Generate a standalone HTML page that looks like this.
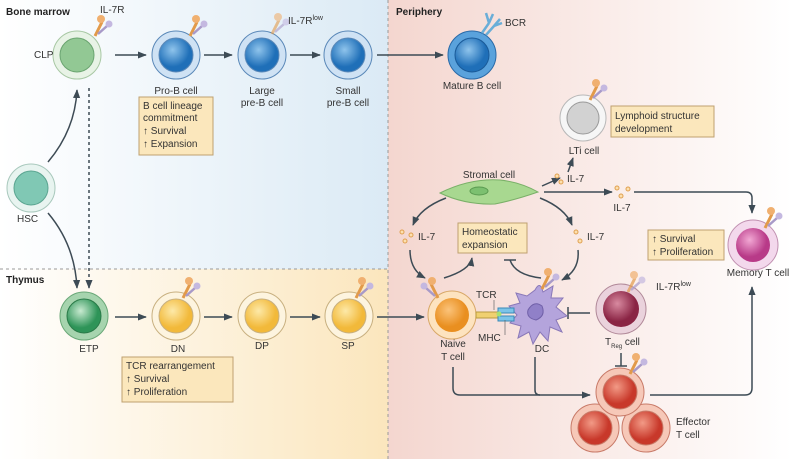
<!DOCTYPE html>
<html><head><meta charset="utf-8"><style>
html,body{margin:0;padding:0;background:#fff}
svg{display:block}
text{font-family:"Liberation Sans",sans-serif;font-size:10px;fill:#333}
.b{font-weight:bold;font-size:10px;fill:#222}
</style></head><body>
<svg width="792" height="459" viewBox="0 0 792 459" xmlns="http://www.w3.org/2000/svg">
<defs>
<linearGradient id="gb" x1="0" x2="1"><stop offset="0" stop-color="#fff"/><stop offset="1" stop-color="#dbeaf5"/></linearGradient>
<linearGradient id="gt" x1="0" x2="1"><stop offset="0" stop-color="#fff"/><stop offset="1" stop-color="#fbe6bd"/></linearGradient>
<linearGradient id="gp" x1="0" x2="1"><stop offset="0" stop-color="#f4d6cf"/><stop offset="1" stop-color="#fff"/></linearGradient>
<radialGradient id="blue" cx=".4" cy=".35"><stop offset="0" stop-color="#8fc4ec"/><stop offset="1" stop-color="#1f6fb8"/></radialGradient>
<radialGradient id="yel" cx=".4" cy=".35"><stop offset="0" stop-color="#fde9a8"/><stop offset="1" stop-color="#f2b93a"/></radialGradient>
<radialGradient id="org" cx=".4" cy=".35"><stop offset="0" stop-color="#fbc37a"/><stop offset="1" stop-color="#e98f20"/></radialGradient>
<radialGradient id="red" cx=".4" cy=".35"><stop offset="0" stop-color="#f29a86"/><stop offset="1" stop-color="#c8382a"/></radialGradient>
<radialGradient id="mag" cx=".4" cy=".35"><stop offset="0" stop-color="#f2a8d4"/><stop offset="1" stop-color="#b83a88"/></radialGradient>
<radialGradient id="treg" cx=".4" cy=".35"><stop offset="0" stop-color="#d88aa0"/><stop offset="1" stop-color="#8a2444"/></radialGradient>
<radialGradient id="grn" cx=".4" cy=".35"><stop offset="0" stop-color="#c8ead0"/><stop offset="1" stop-color="#2e9458"/></radialGradient>
<marker id="a" viewBox="0 0 10 10" refX="9" refY="5" markerWidth="6" markerHeight="6" orient="auto"><path d="M0,1 L10,5 L0,9 z" fill="#3d4b55"/></marker>
<g id="rec"><path d="M0,0 L7,-14" stroke="#e29a4a" stroke-width="3"/><circle cx="6" cy="-17" r="4" fill="#f0b070"/><path d="M3,-2 L12,-10" stroke="#a89ac8" stroke-width="2.5"/><circle cx="14" cy="-12" r="3.5" fill="#c4b8e0"/></g>
</defs>
<rect x="0" y="0" width="388" height="269" fill="url(#gb)"/>
<rect x="0" y="269" width="388" height="190" fill="url(#gt)"/>
<rect x="388" y="0" width="404" height="459" fill="url(#gp)"/>
<line x1="0" y1="269" x2="388" y2="269" stroke="#999" stroke-dasharray="3,3"/>
<line x1="388" y1="0" x2="388" y2="459" stroke="#999" stroke-dasharray="3,3"/>
<text x="6" y="15" class="b">Bone marrow</text>
<text x="6" y="283" class="b">Thymus</text>
<text x="396" y="15" class="b">Periphery</text>

<g fill="none" stroke="#3d4b55" stroke-width="1.5">
<line x1="115" y1="55" x2="146" y2="55" marker-end="url(#a)"/>
<line x1="204" y1="55" x2="232" y2="55" marker-end="url(#a)"/>
<line x1="290" y1="55" x2="320" y2="55" marker-end="url(#a)"/>
<line x1="377" y1="55" x2="443" y2="55" marker-end="url(#a)"/>
<path d="M48,162 Q75,130 77,90" marker-end="url(#a)"/>
<path d="M48,213 Q75,245 77,288" marker-end="url(#a)"/>
<line x1="89" y1="88" x2="89" y2="288" stroke-dasharray="3,3" marker-end="url(#a)"/>
<line x1="115" y1="317" x2="146" y2="317" marker-end="url(#a)"/>
<line x1="204" y1="317" x2="232" y2="317" marker-end="url(#a)"/>
<line x1="290" y1="317" x2="320" y2="317" marker-end="url(#a)"/>
<line x1="377" y1="317" x2="424" y2="317" marker-end="url(#a)"/>
<path d="M446,198 Q420,208 413,225" marker-end="url(#a)"/>
<path d="M540,198 Q565,208 572,225" marker-end="url(#a)"/>
<path d="M542,186 L560,178" marker-end="url(#a)"/>
<path d="M568,172 L573,158" marker-end="url(#a)"/>
<line x1="544" y1="192" x2="612" y2="192" marker-end="url(#a)"/>
<path d="M634,192 L746,192 Q752,192 752,198 L752,213" marker-end="url(#a)"/>
<path d="M410,250 Q410,270 425,278" marker-end="url(#a)"/>
<path d="M444,278 Q470,270 472,258" marker-end="url(#a)"/>
<path d="M541,278 Q515,275 510,260"/><line x1="504" y1="260" x2="516" y2="260"/>
<path d="M578,250 Q580,270 562,280" marker-end="url(#a)"/>
<line x1="590" y1="313" x2="568" y2="313"/><line x1="568" y1="307" x2="568" y2="319"/>
<line x1="621" y1="353" x2="621" y2="366"/><line x1="615" y1="366" x2="627" y2="366"/>
<path d="M453,367 L453,388 Q453,395 460,395 L590,395" marker-end="url(#a)"/>
<path d="M535,357 L535,390 Q535,395 540,395"/>
<path d="M650,395 L745,395 Q752,395 752,388 L752,287" marker-end="url(#a)"/>
</g>

<g stroke-width="1">
<circle cx="77" cy="55" r="24" fill="#e8f3e6" stroke="#a8c8a4"/><circle cx="77" cy="55" r="17" fill="#92c894" stroke="#6aa470"/>
<circle cx="31" cy="188" r="24" fill="#e8f4f0" stroke="#a8c8bc"/><circle cx="31" cy="188" r="17" fill="#80c8b4" stroke="#5aa490"/>
<g stroke="#5a88b8"><circle cx="176" cy="55" r="24" fill="#cfe2f4"/><circle cx="176" cy="55" r="17" fill="url(#blue)"/>
<circle cx="262" cy="55" r="24" fill="#cfe2f4"/><circle cx="262" cy="55" r="17" fill="url(#blue)"/>
<circle cx="348" cy="55" r="24" fill="#cfe2f4"/><circle cx="348" cy="55" r="17" fill="url(#blue)"/>
<circle cx="472" cy="55" r="24" fill="#5aa2dc" stroke="#2a6aa8"/><circle cx="472" cy="55" r="17" fill="url(#blue)" stroke="#1a5a98"/></g>
<circle cx="84" cy="316" r="24" fill="#a6d4ae" stroke="#6aa878"/><circle cx="84" cy="316" r="17" fill="url(#grn)" stroke="#2a7a48"/>
<g stroke="#c8b080"><circle cx="176" cy="316" r="24" fill="#fdf4df"/><circle cx="176" cy="316" r="17" fill="url(#yel)"/>
<circle cx="262" cy="316" r="24" fill="#fdf4df"/><circle cx="262" cy="316" r="17" fill="url(#yel)"/>
<circle cx="349" cy="316" r="24" fill="#fdf4df"/><circle cx="349" cy="316" r="17" fill="url(#yel)"/></g>
<circle cx="583" cy="118" r="23" fill="#f6f6f6" stroke="#b8b8b8"/><circle cx="583" cy="118" r="16" fill="#d2d2d2" stroke="#999"/>
<circle cx="452" cy="315" r="24" fill="#fde3bf" stroke="#d8a868"/><circle cx="452" cy="315" r="17" fill="url(#org)"/>
<circle cx="621" cy="309" r="25" fill="#ead2dc" stroke="#b08898"/><circle cx="621" cy="309" r="18" fill="url(#treg)"/>
<circle cx="753" cy="245" r="25" fill="#f3d8ec" stroke="#c090b0"/><circle cx="753" cy="245" r="17" fill="url(#mag)"/>
<g stroke="#c87a68"><circle cx="595" cy="428" r="24" fill="#f6c8b8"/><circle cx="595" cy="428" r="17" fill="url(#red)"/>
<circle cx="646" cy="428" r="24" fill="#f6c8b8"/><circle cx="646" cy="428" r="17" fill="url(#red)"/>
<circle cx="620" cy="392" r="24" fill="#f6c8b8"/><circle cx="620" cy="392" r="17" fill="url(#red)"/></g>
</g>
<path d="M440,193 Q470,178 500,180 Q520,182 538,192 Q515,200 495,204 Q465,205 440,193 z" fill="#a8d890" stroke="#7ab068"/>
<ellipse cx="479" cy="191" rx="9" ry="4" fill="#7cc070" stroke="#5a9a50"/>
<g fill="#b4a4dc" stroke="#8a78b8">
<path d="M535,290 Q540,280 543,292 L553,286 L551,298 L563,298 L556,307 L567,316 L556,320 L562,332 L550,327 L548,341 L540,332 L533,344 L529,332 L518,338 L521,326 L510,323 L517,315 L509,306 L520,303 L516,293 L527,296 Z"/>
</g>
<path d="M528,310 Q534,300 542,306 Q546,316 536,320 Q526,318 528,310 z" fill="#9080c8" stroke="#7060a8"/>
<rect x="476" y="312" width="22" height="6" fill="#f0d070" stroke="#b89a40"/>
<rect x="498" y="308" width="16" height="5" fill="#7cc4e8" stroke="#3a8ab8"/><rect x="498" y="316" width="16" height="5" fill="#7cc4e8" stroke="#3a8ab8"/>
<circle cx="499" cy="314" r="2.5" fill="#a8e070"/>
<line x1="494" y1="300" x2="494" y2="310" stroke="#666" stroke-width=".7"/><line x1="505" y1="320" x2="505" y2="335" stroke="#666" stroke-width=".7"/>
<use href="#rec" x="95" y="36"/><use href="#rec" x="190" y="36"/>
<use href="#rec" x="272" y="34" opacity=".6"/><use href="#rec" x="183" y="298"/><use href="#rec" x="356" y="298"/>
<use href="#rec" x="590" y="100"/><use href="#rec" x="765" y="228"/><use href="#rec" x="630" y="374"/>
<use href="#rec" x="628" y="292" opacity=".7"/>
<g transform="translate(438,298) scale(-1,1)"><use href="#rec"/></g>
<use href="#rec" x="542" y="289"/>
<path d="M482,33 L489,23 M486,35 L494,26 M489,23 L486,13 M489,23 L493,14 M494,26 L500,19 M494,26 L502,23" stroke="#6aaed8" stroke-width="2.5" fill="none"/>
<g fill="#fce0b0" stroke="#e0a050" stroke-width="1">
<circle cx="557" cy="176" r="2"/><circle cx="561" cy="182" r="2"/>
<circle cx="617" cy="188" r="2"/><circle cx="628" cy="189" r="2"/><circle cx="621" cy="196" r="2"/>
<circle cx="402" cy="232" r="2"/><circle cx="411" cy="235" r="2"/><circle cx="405" cy="241" r="2"/>
<circle cx="576" cy="232" r="2"/><circle cx="580" cy="241" r="2"/>
</g>
<g fill="#fbe7bc" stroke="#bfa070">
<rect x="139" y="97" width="74" height="58"/><rect x="122" y="357" width="111" height="45"/>
<rect x="611" y="106" width="103" height="31"/><rect x="458" y="223" width="69" height="30"/>
<rect x="648" y="230" width="76" height="30"/>
</g>
<text x="143" y="109">B cell lineage</text><text x="143" y="121">commitment</text><text x="143" y="134">↑ Survival</text><text x="143" y="147">↑ Expansion</text>
<text x="126" y="369">TCR rearrangement</text><text x="126" y="382">↑ Survival</text><text x="126" y="395">↑ Proliferation</text>
<text x="615" y="119">Lymphoid structure</text><text x="615" y="132">development</text>
<text x="462" y="235">Homeostatic</text><text x="462" y="248">expansion</text>
<text x="652" y="242">↑ Survival</text><text x="652" y="255">↑ Proliferation</text>
<text x="100" y="13">IL-7R</text>
<text x="34" y="58">CLP</text><text x="17" y="222">HSC</text>
<g text-anchor="middle">
<text x="176" y="94">Pro-B cell</text><text x="262" y="94">Large</text><text x="262" y="106">pre-B cell</text>
<text x="348" y="94">Small</text><text x="348" y="106">pre-B cell</text>
<text x="472" y="89">Mature B cell</text>
<text x="89" y="352">ETP</text><text x="178" y="352">DN</text><text x="262" y="349">DP</text><text x="348" y="349">SP</text>
<text x="584" y="154">LTi cell</text><text x="489" y="178">Stromal cell</text>
<text x="622" y="211">IL-7</text>
<text x="453" y="347">Naive</text><text x="453" y="360">T cell</text>
<text x="542" y="352">DC</text>
<text x="758" y="276">Memory T cell</text>
</g>
<text x="288" y="24">IL-7R<tspan font-size="7" dy="-4">low</tspan></text>
<text x="505" y="26">BCR</text>
<text x="567" y="182">IL-7</text>
<text x="418" y="240">IL-7</text><text x="587" y="240">IL-7</text>
<text x="476" y="298">TCR</text><text x="478" y="341">MHC</text>
<text x="605" y="345">T<tspan font-size="6" dy="3">Reg</tspan><tspan dy="-3"> cell</tspan></text>
<text x="656" y="290">IL-7R<tspan font-size="7" dy="-4">low</tspan></text>
<text x="676" y="425">Effector</text><text x="676" y="438">T cell</text>
</svg>
</body></html>
